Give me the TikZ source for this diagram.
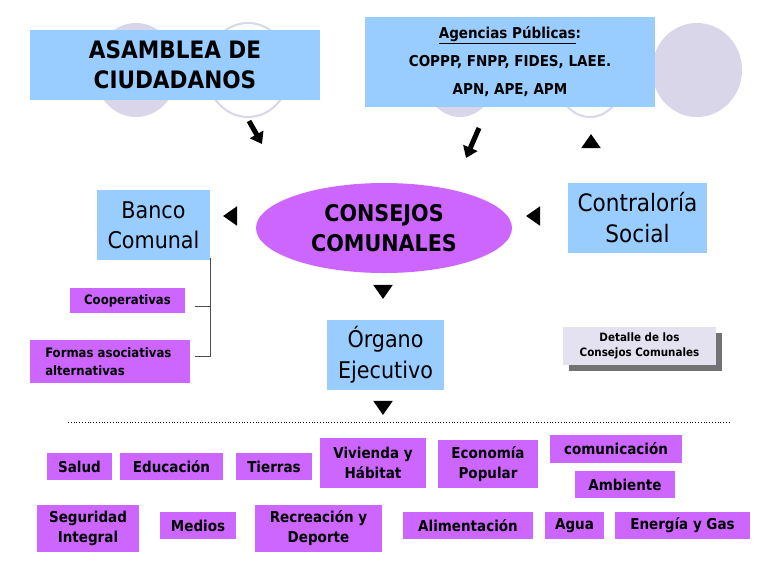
\documentclass[tikz,border=0pt]{standalone}
\usepackage{fontspec}
\setmainfont{DejaVu Sans}
\newfontfamily\cond{DejaVu Sans Condensed}
\usetikzlibrary{shapes.geometric,arrows.meta}
\definecolor{lblue}{HTML}{99CCFF}
\definecolor{purp}{HTML}{CC66FF}
\definecolor{lav}{HTML}{D9D6EA}
\begin{document}
\begin{tikzpicture}[x=1pt,y=-1pt,
 bluebox/.style={fill=lblue,draw=none,inner sep=0,align=center},
 pbox/.style={fill=purp,draw=none,inner sep=0,align=center,font=\cond\bfseries\fontsize{15}{18}\selectfont},
 tri/.style={isosceles triangle,fill=black,inner sep=0,minimum width=15pt,minimum height=14pt,isosceles triangle apex angle=70},
 fat/.style={-{Triangle[width=15pt,length=11pt]},line width=5pt}]
\useasboundingbox (0,0) rectangle (768,574);
% background ellipses
\fill[lav] (136,70) ellipse (42 and 47);
\draw[lav,line width=2pt] (248,70) ellipse (42 and 47);
\fill[lav] (460,70) ellipse (38 and 47);
\draw[lav,line width=2pt] (590,70) ellipse (36 and 47);
\fill[lav] (697,70) ellipse (45 and 47);
% blue boxes
\node[bluebox,minimum width=290pt,minimum height=70pt,font=\cond\bfseries\fontsize{24}{30}\selectfont] (asam) at (175,65) {ASAMBLEA DE\\CIUDADANOS};
\node[bluebox,minimum width=290pt,minimum height=90pt,font=\cond\bfseries\fontsize{15}{28}\selectfont] (agen) at (510,62) {\underline{Agencias Públicas}:\\COPPP, FNPP, FIDES, LAEE.\\APN, APE, APM};
\node[bluebox,minimum width=113pt,minimum height=70pt,font=\cond\fontsize{23}{30}\selectfont] (banco) at (153.5,225) {Banco\\Comunal};
\node[bluebox,minimum width=139pt,minimum height=70pt,font=\cond\fontsize{24}{31}\selectfont] (contra) at (637.5,218) {Contraloría\\Social};
\node[bluebox,minimum width=117pt,minimum height=70pt,font=\cond\fontsize{23}{31}\selectfont] (organo) at (385.5,355) {Órgano\\Ejecutivo};
\node[ellipse,fill=purp,minimum width=256pt,minimum height=90pt,inner sep=0,align=center,font=\cond\bfseries\fontsize{23}{30}\selectfont] (cc) at (384,228) {CONSEJOS\\COMUNALES};
% arrows
\coordinate (a1s) at (249,121); \coordinate (a1e) at (262,144);
\draw[fat] (a1s) -- (a1e);
\coordinate (a2s) at (479,128); \coordinate (a2e) at (466,158);
\draw[fat] (a2s) -- (a2e);
\node[tri,rotate=90] (t1) at (591,143) {};
\node[tri,rotate=180] (t2) at (232,216) {};
\node[tri,rotate=180] (t3) at (535,216) {};
\node[tri,rotate=-90] (t4) at (383,290) {};
\node[tri,rotate=-90] (t5) at (383,406) {};
% bracket
\node[pbox,minimum width=115pt,minimum height=25pt,font=\cond\bfseries\fontsize{13}{16}\selectfont] (coop) at (127.5,300.5) {Cooperativas};
\node[pbox,minimum width=160pt,minimum height=43pt,align=left,font=\cond\bfseries\fontsize{13}{18}\selectfont] (formas) at (110,361.5) {Formas asociativas\\alternativas\hspace*{50pt}};
\coordinate (b1) at (210,258); \coordinate (b2) at (210,356);
\coordinate (b3) at (195,306); \coordinate (b4) at (195,356);
\draw[black!70] (b1) -- (b2) -- (b4);
\draw[black!70] (210,306) -- (b3);
% detalle
\fill[black!55] (569,333) rectangle (722,371);
\node[fill=lav!70,minimum width=153pt,minimum height=38pt,inner sep=0,align=center,font=\cond\bfseries\fontsize{11.5}{15}\selectfont] (det) at (639.5,346) {Detalle de los\\Consejos Comunales};
% dotted line
\coordinate (d1) at (68,422); \coordinate (d2) at (730,422);
\draw[dotted,line width=0.8pt] (d1) -- (d2);
% bottom boxes
\node[pbox,minimum width=65pt,minimum height=27pt] (salud) at (79.5,466.5) {Salud};
\node[pbox,minimum width=103pt,minimum height=27pt] (edu) at (171.5,466.5) {Educación};
\node[pbox,minimum width=76pt,minimum height=27pt] (tie) at (274,466.5) {Tierras};
\node[pbox,minimum width=106pt,minimum height=50pt,font=\cond\bfseries\fontsize{15}{20}\selectfont] (viv) at (373,463) {Vivienda y\\Hábitat};
\node[pbox,minimum width=100pt,minimum height=48pt,font=\cond\bfseries\fontsize{15}{20}\selectfont] (eco) at (488,464) {Economía\\Popular};
\node[pbox,minimum width=132pt,minimum height=28pt] (com) at (616,449) {comunicación};
\node[pbox,minimum width=100pt,minimum height=27pt] (amb) at (625,484.5) {Ambiente};
\node[pbox,minimum width=102pt,minimum height=47pt,font=\cond\bfseries\fontsize{15}{20}\selectfont] (seg) at (88,528.5) {Seguridad\\Integral};
\node[pbox,minimum width=76pt,minimum height=27pt] (med) at (198,525.5) {Medios};
\node[pbox,minimum width=127pt,minimum height=47pt,font=\cond\bfseries\fontsize{15}{20}\selectfont] (rec) at (318.5,528.5) {Recreación y\\Deporte};
\node[pbox,minimum width=130pt,minimum height=27pt] (ali) at (468,525.5) {Alimentación};
\node[pbox,minimum width=59pt,minimum height=27pt] (agua) at (574.5,525.5) {Agua};
\node[pbox,minimum width=135pt,minimum height=27pt] (ene) at (682.5,525.5) {Energía y Gas};
\end{tikzpicture}
\end{document}
